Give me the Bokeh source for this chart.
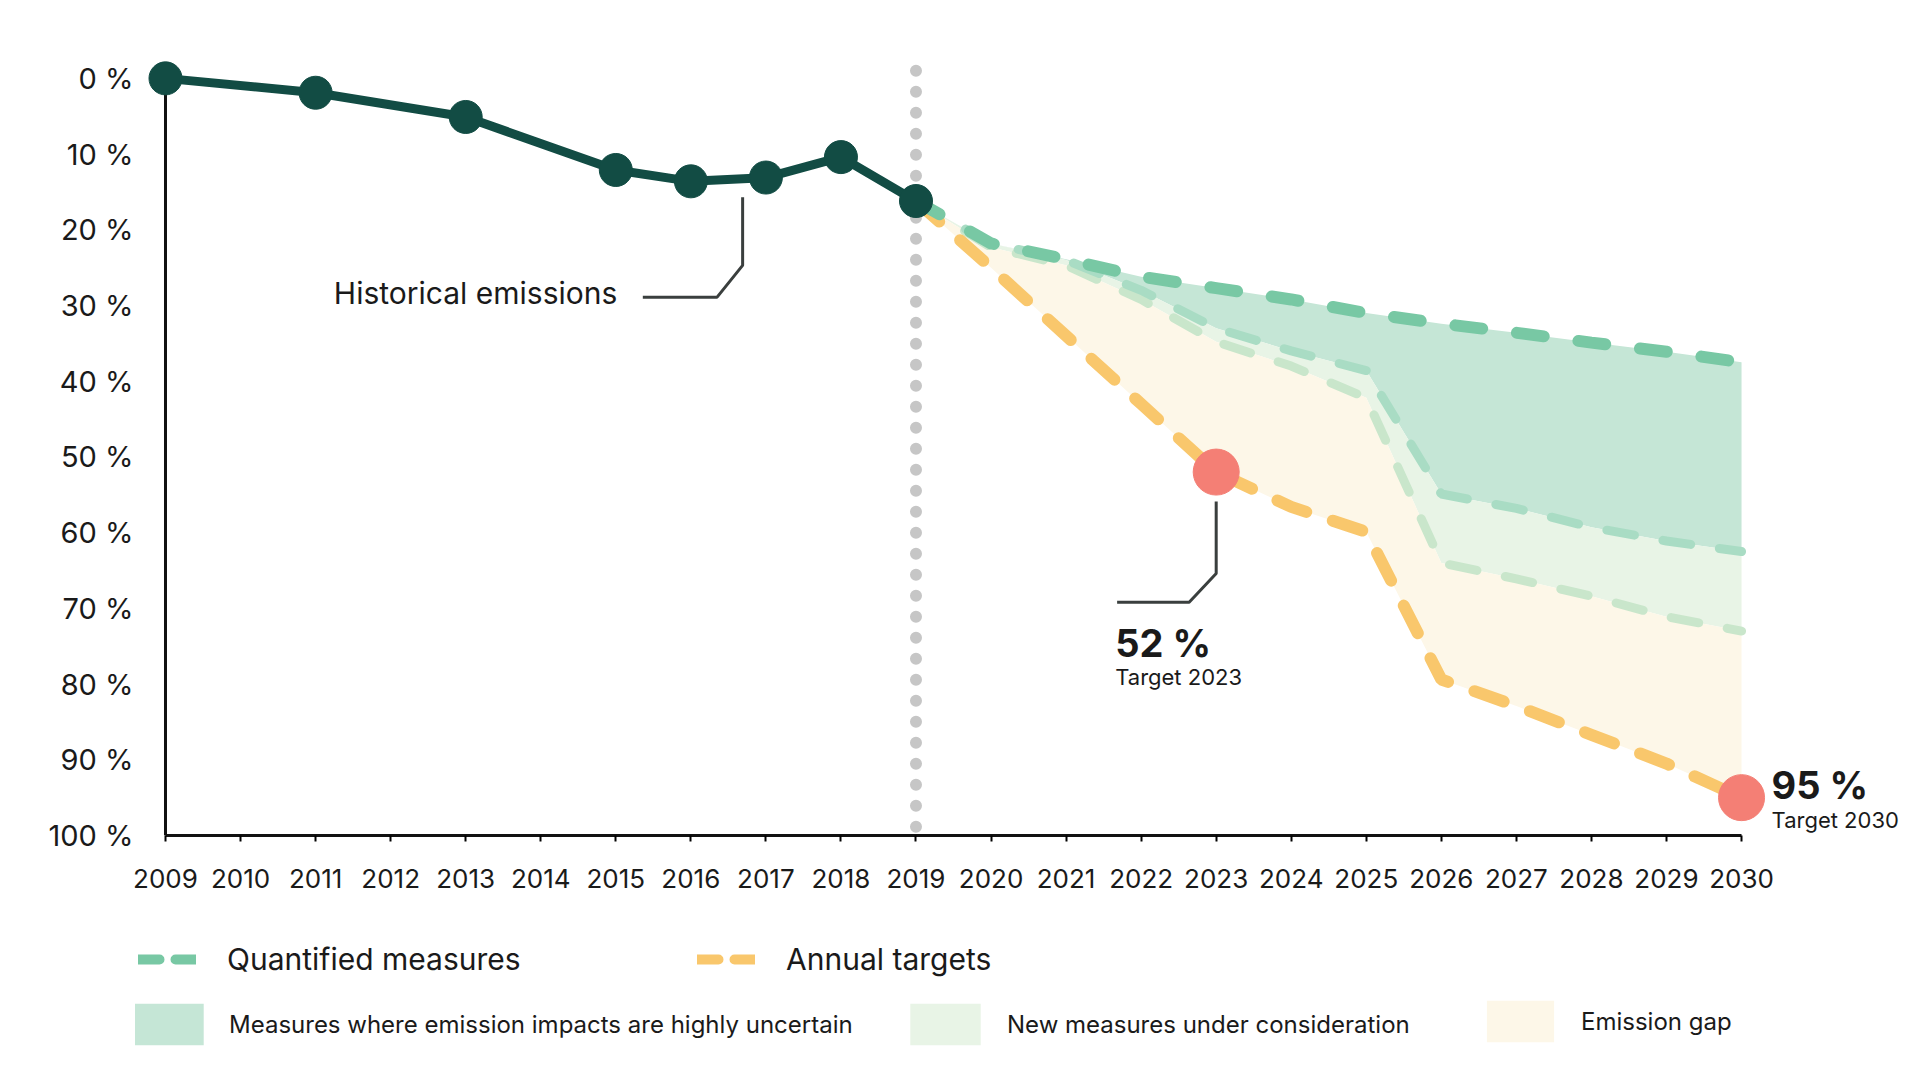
from bokeh.plotting import figure
from bokeh.layouts import column
from bokeh.embed import file_html
from bokeh.resources import INLINE
from bokeh.core.properties import value
from bokeh.models import Range1d, FixedTicker, PrintfTickFormatter, Legend, LegendItem

# emission reduction compared with 2009 (%)
hist_years = [2009, 2011, 2013, 2015, 2016, 2017, 2018, 2019]
hist_reduction = [0, 1.9, 5.1, 12.1, 13.6, 13.1, 10.4, 16.2]

proj_years = [2019, 2020, 2021, 2022, 2023, 2024, 2025, 2026, 2027, 2028, 2029, 2030]
quantified = [16.2, 21.8, 23.9, 26.2, 27.7, 29.2, 31.0, 32.4, 33.6, 34.9, 36.1, 37.5]
uncertain = [16.2, 21.8, 24.0, 28.0, 33.0, 36.0, 38.6, 54.9, 56.8, 59.3, 61.1, 62.5]
new_measures = [16.2, 22.3, 24.7, 29.2, 34.8, 38.0, 42.2, 64.0, 66.1, 68.4, 71.1, 73.0]
annual_targets = [16.2, 25.0, 34.0, 43.0, 52.0, 56.6, 59.9, 79.4, 82.9, 86.7, 90.5, 95.0]

target_years = [2023, 2030]
target_values = [52, 95]
target_big = ["52 %", "95 %"]
target_small = ["Target 2023", "Target 2030"]

year_ticks = list(range(2009, 2031))
pct_ticks = list(range(0, 101, 10))

divider_year = 2019
divider_span = [-1.0, 99.0]

# annotation leaders
hist_leader_x = [2016.69, 2016.69, 2016.35, 2015.36]
hist_leader_y = [15.7, 24.7, 28.9, 28.9]
hist_label_pos = (2015.02, 28.4)
t23_leader_x = [2023.0, 2023.0, 2022.64, 2021.68]
t23_leader_y = [55.9, 65.4, 69.2, 69.2]

FONT = "Inter"
TEXT = "#1a1a1a"
AXIS = "#111111"
DARK = "#124c44"
GREEN = "#78c8a4"
GREEN_MID = "#a9dcc4"
GREEN_LIGHT = "#c9e6cb"
ORANGE = "#f9c76c"
SALMON = "#f47f75"
FILL_UNC = "#c5e6d6"
FILL_NEW = "#e8f4e6"
FILL_GAP = "#fdf7e8"

p = figure(
    width=1913,
    height=910,
    x_range=Range1d(2008.6003, 2032.2913),
    y_range=Range1d(100, -5),
    min_border_left=135,
    min_border_right=0,
    min_border_top=40,
    min_border_bottom=75,
    toolbar_location=None,
    tools="",
    output_backend="svg",
)
p.outline_line_color = None
p.grid.grid_line_color = None

# areas
p.varea(x=proj_years, y1=quantified, y2=uncertain, fill_color=FILL_UNC)
p.varea(x=proj_years, y1=uncertain, y2=new_measures, fill_color=FILL_NEW)
p.varea(x=proj_years, y1=new_measures, y2=annual_targets, fill_color=FILL_GAP)

# divider at last historical year
p.line(x=[divider_year, divider_year], y=divider_span, line_color="#c6c6c6",
       line_width=12, line_dash="0 21", line_cap="round")

# y axis line sits on the first year, not on the frame edge
p.segment(x0=[year_ticks[0]], y0=[pct_ticks[0]], x1=[year_ticks[0]], y1=[pct_ticks[-1]],
          line_color=AXIS, line_width=3)

# projection lines
p.line(proj_years, new_measures, line_color=GREEN_LIGHT, line_width=9,
       line_dash="28 29", line_cap="round")
p.line(proj_years, uncertain, line_color=GREEN_MID, line_width=9,
       line_dash="28 29", line_cap="round")
p.line(proj_years, annual_targets, line_color=ORANGE, line_width=12,
       line_dash="31 28", line_cap="round")
p.line(proj_years, quantified, line_color=GREEN, line_width=12,
       line_dash="27 35", line_cap="round")

# history
p.line(hist_years, hist_reduction, line_color=DARK, line_width=9)
p.scatter(hist_years, hist_reduction, size=33, color=DARK)

# targets
p.scatter(target_years, target_values, size=46, color=SALMON)

# annotations
p.line(hist_leader_x, hist_leader_y, line_color="#3a3f3e", line_width=3)
p.line(t23_leader_x, t23_leader_y, line_color="#3a3f3e", line_width=3)
p.text(x=[hist_label_pos[0]], y=[hist_label_pos[1]], text=["Historical emissions"],
       text_font=value(FONT), text_font_size="30px", text_color=TEXT,
       text_align="right", text_baseline="middle")
p.text(x=target_years, y=target_values, text=target_big, x_offset=[-101, 30],
       y_offset=[171, -13], text_font=value(FONT), text_font_size="38px",
       text_font_style="bold", text_color=TEXT, text_align="left",
       text_baseline="middle")
p.text(x=target_years, y=target_values, text=target_small, x_offset=[-101, 30],
       y_offset=[205, 22], text_font=value(FONT), text_font_size="22px",
       text_color=TEXT, text_align="left", text_baseline="middle")

# axes
xa = p.xaxis[0]
xa.ticker = FixedTicker(ticks=year_ticks)
xa.formatter = PrintfTickFormatter(format="%d")
xa.bounds = (year_ticks[0], year_ticks[-1])
xa.axis_line_width = 3
xa.axis_line_color = AXIS
xa.major_tick_out = 6
xa.major_tick_in = 0
xa.major_tick_line_width = 2
xa.minor_tick_out = 0
xa.minor_tick_in = 0
xa.major_label_standoff = 27
xa.major_label_text_font = FONT
xa.major_label_text_font_size = "26px"
xa.major_label_text_color = TEXT

ya = p.yaxis[0]
ya.ticker = FixedTicker(ticks=pct_ticks)
ya.formatter = PrintfTickFormatter(format="%d %%")
ya.axis_line_color = None
ya.major_tick_out = 0
ya.major_tick_in = 0
ya.minor_tick_out = 0
ya.minor_tick_in = 0
ya.major_label_standoff = 2
ya.major_label_text_font = FONT
ya.major_label_text_font_size = "29px"
ya.major_label_text_color = TEXT

# legend strip below the chart (its frame lines up with the chart frame)
leg = figure(
    width=1913,
    height=163,
    x_range=Range1d(0, 1),
    y_range=Range1d(0, 1),
    x_axis_location=None,
    y_axis_location=None,
    min_border=0,
    toolbar_location=None,
    tools="",
    output_backend="svg",
)
leg.outline_line_color = None
leg.grid.grid_line_color = None

nan = float("nan")
sample_quant = leg.line([nan, nan], [nan, nan], line_color=GREEN, line_width=10,
                        line_dash="21 16", line_cap="round")
sample_target = leg.line([nan, nan], [nan, nan], line_color=ORANGE, line_width=10,
                         line_dash="21 16", line_cap="round")
sample_unc = leg.varea(x=[nan, nan], y1=[nan, nan], y2=[nan, nan], fill_color=FILL_UNC)
sample_new = leg.varea(x=[nan, nan], y1=[nan, nan], y2=[nan, nan], fill_color=FILL_NEW)
sample_gap = leg.varea(x=[nan, nan], y1=[nan, nan], y2=[nan, nan], fill_color=FILL_GAP)

legend_items = [
    # renderer, label, (x, y) from frame bottom-left, glyph w, glyph h, standoff, font size
    (sample_quant, "Quantified measures", (3, 94), 58, 40, 31, "30px"),
    (sample_target, "Annual targets", (562, 94), 58, 40, 31, "30px"),
    (sample_unc, "Measures where emission impacts are highly uncertain", (-11, 23), 88, 52, 17, "24px"),
    (sample_new, "New measures under consideration", (766, 23), 88, 52, 18, "24px"),
    (sample_gap, "Emission gap", (1343, 26), 84, 52, 19, "24px"),
]
for rend, label, loc, gw, gh, standoff, size in legend_items:
    leg.add_layout(Legend(
        items=[LegendItem(label=label, renderers=[rend])],
        location=loc,
        glyph_width=gw,
        glyph_height=gh,
        label_height=gh,
        label_standoff=standoff,
        padding=0,
        margin=0,
        border_line_color=None,
        background_fill_alpha=0,
        label_text_font=FONT,
        label_text_font_size=size,
        label_text_color=TEXT,
    ))

page = column(p, leg, spacing=0)

open("out.html", "w").write(file_html(page, INLINE))
